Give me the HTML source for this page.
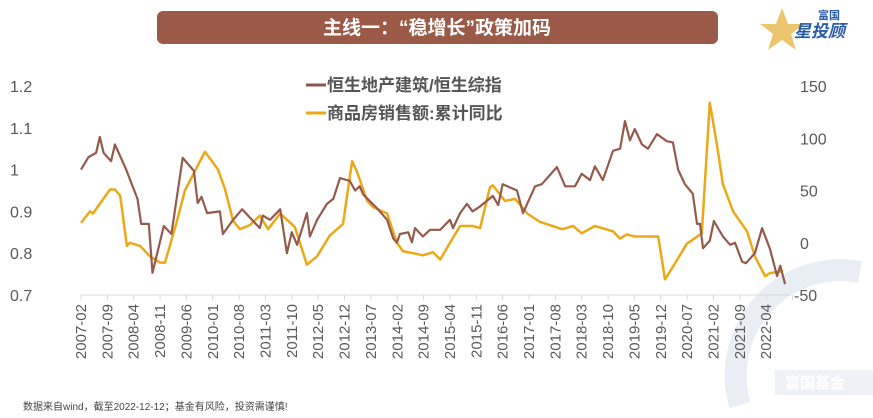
<!DOCTYPE html>
<html><head><meta charset="utf-8">
<style>
html,body{margin:0;padding:0;background:#fff;width:873px;height:418px;overflow:hidden;font-family:"Liberation Sans","Noto Sans CJK SC",sans-serif;}
svg{display:block;overflow:hidden;}
svg text{font-family:"Liberation Sans","Noto Sans CJK SC",sans-serif;}
</style></head>
<body>
<svg id="chart" width="873" height="418" viewBox="0 0 873 418">
  <path d="M740,405 A105,105 0 0 1 860,272" fill="none" stroke="#e9eef5" stroke-width="22"/>
  <rect x="775" y="370" width="98" height="25" fill="#eef1f6"/>
  <text x="785" y="388" font-size="15" fill="#fff" font-weight="bold">富国基金</text>
  <rect x="157" y="11" width="561" height="33" rx="6" fill="#9b5a47"/>
  <text x="437" y="34" font-size="19" font-weight="bold" fill="#fff" text-anchor="middle">主线一：“稳增长”政策加码</text>
  <g>
    <polygon points="782,8 788,24 805,24 791,34 796,50 782,40 768,50 773,34 760,24 776,24" fill="#e8b64a" opacity="0.8"/>
    <text x="818" y="19" font-size="11" font-weight="bold" fill="#2a5ba8">富国</text>
    <text x="794" y="37" font-size="17" font-weight="bold" font-style="italic" fill="#2a5ba8">星投顾</text>
  </g>
  <g>
    <line x1="306" y1="85" x2="326" y2="85" stroke="#8c564b" stroke-width="3"/>
    <text x="327" y="91" font-size="17" font-weight="bold" fill="#555">恒生地产建筑/恒生综指</text>
    <line x1="306" y1="113" x2="326" y2="113" stroke="#e8a817" stroke-width="3"/>
    <text x="327" y="119" font-size="17" font-weight="bold" fill="#555">商品房销售额:累计同比</text>
  </g>
  <g id="axes"></g>
  <g id="marks"></g>
  <text x="23" y="410" font-size="10" fill="#444">数据来自wind，截至2022-12-12；基金有风险，投资需谨慎!</text>
</svg>
<script>
const leftTicks=[0.7,0.8,0.9,1,1.1,1.2];
const rightTicks=[-50,0,50,100,150];
const brownMonths=[0,2,4,5,6,8,9,12,15,16,18,19,22,24,27,30,31,32,33.5,36.9,37.7,40.4,42.8,47.5,48.3,50.2,52.9,54.7,56,57.4,60,60.8,62.7,65.3,67,68.8,71.4,72.8,74,75,78.6,81.3,82.9,83.9,84.7,86.9,87.9,88.7,90.8,92.7,95.4,98,98.8,100.7,102.5,104,106,109.4,110.8,112,115.8,117.4,120.6,122.4,126.4,128.6,131.2,133,135.2,136.5,138.6,141.3,143.2,144.5,145.8,147.1,149,150.6,153,155.6,157.2,158.6,160.4,162.5,163.6,164.4,165.2,167,168.1,170.5,172.4,173.7,175.6,176.6,179,180.9,183,184.9,185.7,187];
const brownValues=[1.00,1.03,1.04,1.078,1.04,1.02,1.06,1.0,0.93,0.87,0.87,0.753,0.865,0.846,1.028,0.997,0.92,0.935,0.896,0.9,0.846,0.88,0.905,0.86,0.89,0.88,0.905,0.80,0.85,0.82,0.896,0.84,0.88,0.918,0.93,0.98,0.973,0.95,0.96,0.94,0.908,0.88,0.836,0.825,0.846,0.85,0.826,0.86,0.84,0.856,0.856,0.88,0.86,0.896,0.918,0.9,0.912,0.937,0.915,0.965,0.95,0.896,0.96,0.965,1.006,0.96,0.96,0.99,0.975,1.008,0.975,1.045,1.05,1.116,1.07,1.097,1.06,1.05,1.085,1.068,1.065,1.0,0.965,0.942,0.87,0.87,0.812,0.83,0.877,0.84,0.82,0.825,0.78,0.776,0.8,0.86,0.81,0.745,0.77,0.726];
const yellowMonths=[0,2.4,3.2,7.7,9,10.4,12.2,13,15.7,18.3,21,22.3,25.5,27.6,32.9,34.8,36.4,38.2,40.4,42.2,44.9,47.5,49.7,52.9,56.8,60,62.7,66.1,69.6,72,73.3,76,77.6,81.3,83.9,85.5,88.2,90.8,93.5,95.4,98,100.7,104,106,108.6,109.4,112.6,115.3,118.5,121.9,127.8,130.7,133,136.5,141.3,143.2,145,147.1,153.3,155.1,157.2,160.9,164.9,167,168.9,170.5,173.2,176.9,179,181.7,183,186.5];
const yellowValues=[19,30,28,51,51,45,-3,0,-3,-13,-19,-19,21,50,87,78,70,52,21,13,17,26,13,28,15,-21,-13,7,18,78,68,40,34,28,0,-8,-10,-12,-9,-16,0,16,16,14,53,55,40,42,28,20,13,16,9,16,11,4,8,6,6,-35,-23,-1,9,134,94,56,30,11,-13,-32,-29,-27];
const x0=81,pxPerMonth=3.765;
function xs(m){return x0+m*pxPerMonth;}
function yl(v){return 295-(v-0.7)/0.5*209;}
function yr(v){return 295-(v+50)/200*209;}
function monthLabel(m){const t=2007*12+1+m;return Math.floor(t/12)+'-'+String(t%12+1).padStart(2,'0');}
const NS='http://www.w3.org/2000/svg';
const axes=document.getElementById('axes'),marks=document.getElementById('marks');
function mk(tag,attrs,parent){const e=document.createElementNS(NS,tag);for(const k in attrs)e.setAttribute(k,attrs[k]);parent.appendChild(e);return e;}
const base=mk('line',{x1:x0,y1:295,x2:790,y2:295,stroke:'#d9d9d9','stroke-width':1},axes);


for(const v of leftTicks){const t=mk('text',{x:10,y:yl(v)+6,'font-size':16,fill:'#595959'},axes);t.textContent=String(v);

}
for(const v of rightTicks){const t=mk('text',{x:v<0?794:800,y:yr(v)+6,'font-size':16,fill:'#595959'},axes);t.textContent=String(v);

}
for(let m=0;m<=189;m+=7){const x=xs(m);
const tk=mk('line',{x1:x,y1:295,x2:x,y2:300,stroke:'#d9d9d9'},axes);


if(m<=183){const t=mk('text',{x:0,y:0,'font-size':15,fill:'#595959','text-anchor':'end',transform:`translate(${x+5},304) rotate(-90)`},axes);t.textContent=monthLabel(m);

}}
function path(ms,vs,f){return ms.map((m,i)=>(i?'L':'M')+xs(m).toFixed(1)+','+f(vs[i]).toFixed(1)).join('');}
const py=mk('path',{d:path(yellowMonths,yellowValues,yr),fill:'none',stroke:'#eba917','stroke-width':2.5,'stroke-linejoin':'round'},marks);


const pb=mk('path',{d:path(brownMonths,brownValues,yl),fill:'none',stroke:'#965a4c','stroke-width':2.2,'stroke-linejoin':'round'},marks);


</script>
</body></html>
